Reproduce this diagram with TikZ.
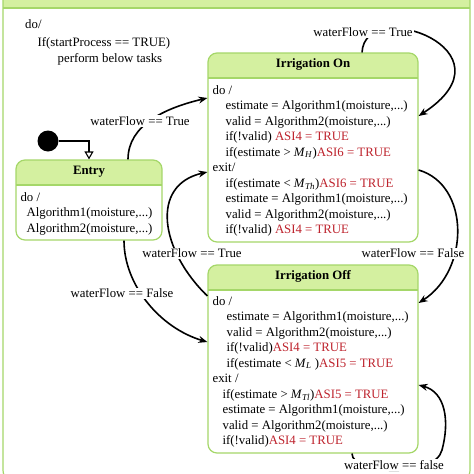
\documentclass[tikz,border=0pt]{standalone}
\usepackage{fontspec}
\setmainfont{Liberation Serif}
\usepackage{xcolor}
\usetikzlibrary{arrows.meta}
\definecolor{brd}{RGB}{165,215,105}
\definecolor{hdr}{RGB}{212,240,160}
\definecolor{asired}{RGB}{190,35,45}
\newcommand{\asi}[1]{\textcolor{asired}{#1}}
\newcommand{\thr}[1]{\textit{M}\textsubscript{\textit{#1}}}

\begin{document}
\begin{tikzpicture}[x=1pt, y=-1pt,
    stbox/.style={draw=brd, line width=1.2pt, fill=white, rounded corners=9pt, inner sep=0pt,
        path picture={
            \fill[hdr, sharp corners] (path picture bounding box.north west) rectangle ([yshift=-#1]path picture bounding box.north east);
            \draw[brd, line width=1.2pt, sharp corners] ([yshift=-#1]path picture bounding box.north west) -- ([yshift=-#1]path picture bounding box.north east);}},
    ttl/.style={font=\fontsize{12.8}{15.5}\selectfont\bfseries, inner sep=0pt},
    body/.style={font=\fontsize{12.8}{15.5}\selectfont, align=left, inner sep=0pt, anchor=north west},
    lbl/.style={font=\fontsize{12.8}{15.5}\selectfont, fill=white, inner sep=1pt},
    arr/.style={-{Stealth[length=9pt, width=7pt]}, line width=1.6pt},
]
    \useasboundingbox (0,0) rectangle (474,474);
    \clip (0,0) rectangle (474,474);

    % states
    \node[stbox=28pt, rounded corners=14pt, minimum width=467pt, minimum height=504pt] (proc) at (236.5,232) {};
    \node[stbox=25pt, minimum width=210pt, minimum height=189pt] (on) at (313,147.5) {};
    \node[stbox=25pt, minimum width=210pt, minimum height=188pt] (off) at (313,359) {};
    \node[stbox=25pt, minimum width=146pt, minimum height=80pt] (entry) at (89,200) {};

    \node[ttl] (ontitle) at ([yshift=-12.5pt]on.north) {Irrigation On};
    \node[ttl] (offtitle) at ([yshift=-12.5pt]off.north) {Irrigation Off};
    \node[ttl] (entrytitle) at ([yshift=-12.5pt]entry.north) {Entry};

    \node[body] (proctext) at (25,19.5) {do/\\[2.5pt]
        \hspace*{12.5pt}If(startProcess == TRUE)\\
        \hspace*{32.5pt}perform below tasks};

    \node[body] (entrytext) at ([xshift=5pt, yshift=-32.6pt]entry.north west) {do /\\
        \hspace*{6pt}Algorithm1(moisture,...)\\
        \hspace*{6pt}Algorithm2(moisture,...)};

    \node[body] (ontext) at ([xshift=5pt, yshift=-32.6pt]on.north west) {do /\\
        \hspace*{13pt}estimate = Algorithm1(moisture,...)\\
        \hspace*{13pt}valid = Algorithm2(moisture,...)\\
        \hspace*{13pt}if(!valid) \asi{ASI4 = TRUE}\\
        \hspace*{13pt}if(estimate > \thr{H})\asi{ASI6 = TRUE}\\
        exit/\\
        \hspace*{13pt}if(estimate < \thr{Th})\asi{ASI6 = TRUE}\\
        \hspace*{13pt}estimate = Algorithm1(moisture,...)\\
        \hspace*{13pt}valid = Algorithm2(moisture,...)\\
        \hspace*{13pt}if(!valid) \asi{ASI4 = TRUE}};

    \node[body] (offtext) at ([xshift=5pt, yshift=-31.6pt]off.north west) {do /\\
        \hspace*{14pt}estimate = Algorithm1(moisture,...)\\
        \hspace*{14pt}valid = Algorithm2(moisture,...)\\
        \hspace*{14pt}if(!valid)\asi{ASI4 = TRUE}\\
        \hspace*{14pt}if(estimate < \thr{L} )\asi{ASI5 = TRUE}\\
        exit /\\
        \hspace*{10pt}if(estimate > \thr{Tl})\asi{ASI5 = TRUE}\\
        \hspace*{10pt}estimate = Algorithm1(moisture,...)\\
        \hspace*{10pt}valid = Algorithm2(moisture,...)\\
        \hspace*{10pt}if(!valid)\asi{ASI4 = TRUE}};

    % initial state
    \node[circle, fill=black, minimum size=21pt, inner sep=0pt] (init) at (48,141) {};
    \draw[line width=1.1pt, -{Triangle[open, length=8pt, width=9pt]}] (init) -| (entry.north);

    % transitions
    \draw[arr] ([xshift=39pt]entry.north) .. controls (128,125) and (165,108) .. ([yshift=49.5pt]on.west);
    \draw[arr] ([xshift=49pt]on.north) .. controls (365,-5) and (520,50) .. ([yshift=31.5pt]on.east);
    \draw[arr] ([yshift=-22.5pt]on.east) .. controls (470,185) and (470,270) .. ([yshift=56pt]off.east);
    \draw[arr] ([yshift=63pt]off.west) .. controls (160,250) and (150,185) .. ([yshift=-24.5pt]on.west);
    \draw[arr] ([xshift=35pt]entry.south) .. controls (124,285) and (160,328) .. ([yshift=17pt]off.west);
    \draw[arr] ([xshift=39pt]off.south) .. controls (352,475) and (435,478) .. (442,450)
        .. controls (450,420) and (445,392) .. ([yshift=-26pt]off.east);

    \node[lbl] (entryon) at (140,121) {waterFlow == True};
    \node[lbl] (onon) at (363,32) {waterFlow == True};
    \node[lbl] (onoff) at (413,253) {waterFlow == False};
    \node[lbl] (offon) at (192,253) {waterFlow == True};
    \node[lbl] (entryoff) at (122,293) {waterFlow == False};
    \node[lbl] (offoff) at (394,465) {waterFlow == false};
\end{tikzpicture}
\end{document}
